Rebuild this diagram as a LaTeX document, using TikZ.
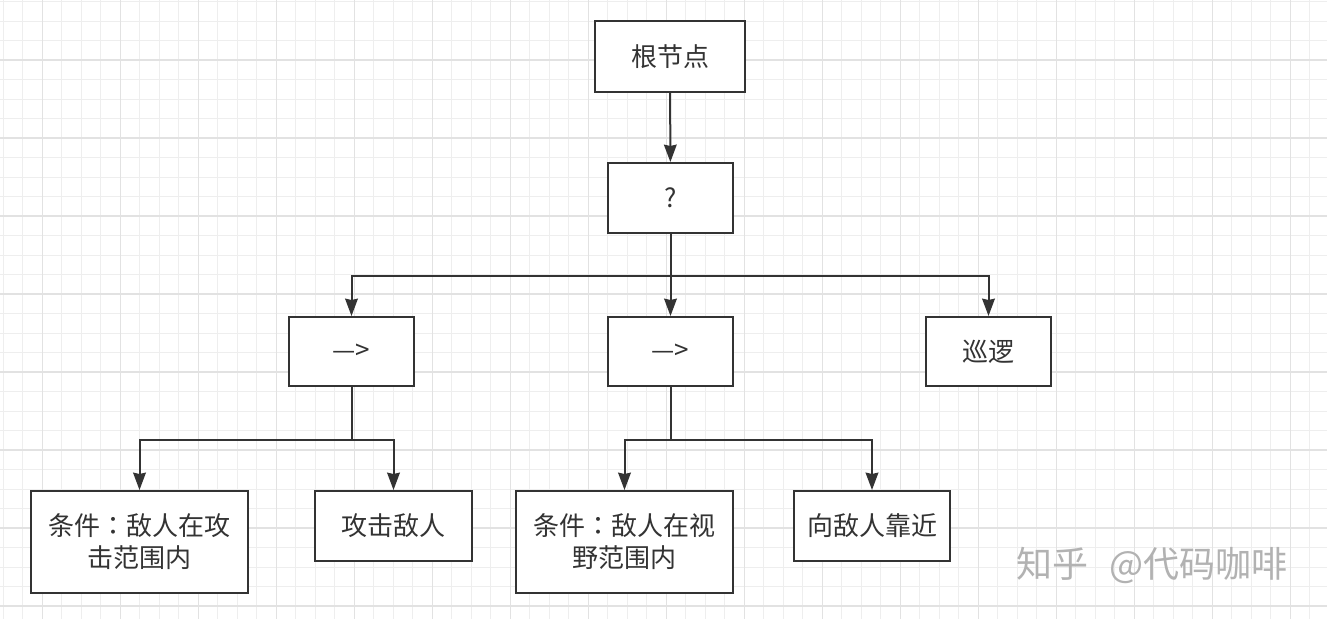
\documentclass[tikz,border=0pt]{standalone}
\usepackage{fontspec}
\setmainfont{Noto Sans CJK SC}
\newfontfamily\tcfont{Noto Sans CJK TC}
\usetikzlibrary{arrows.meta}
\definecolor{ink}{HTML}{333333}
\definecolor{gridminor}{HTML}{EEEEEE}
\definecolor{gridmajor}{HTML}{E2E2E2}
\newcommand{\fwcolon}{{\tcfont ：}}
\tikzset{
  box/.style={draw=ink, line width=1.5pt, fill=white, rectangle, inner sep=0pt, align=center,
    text=ink, font=\fontsize{19.5pt}{24pt}\selectfont},
  link/.style={draw=ink, line width=1.5pt},
  arr/.style={link, -{Stealth[length=13pt, width=9.5pt, inset=1pt]}},
  gminor/.style={draw=gridminor, line width=0.75pt},
  gmajor/.style={draw=gridmajor, line width=0.9pt},
}
\begin{document}
\begin{tikzpicture}[x=0.75pt,y=-0.75pt]
\useasboundingbox (0,0) rectangle (1327,619);
\fill[white] (0,0) rectangle (1327,619);
% grid
\foreach \i in {0,...,68} {\draw[gminor] ({3.2+19.5*\i},0) -- ({3.2+19.5*\i},619);}
\foreach \i in {0,...,31} {\draw[gminor] (0,{1.5+19.5*\i}) -- (1327,{1.5+19.5*\i});}
\foreach \i in {0,...,16} {\draw[gmajor] ({42.7+78*\i},0) -- ({42.7+78*\i},619);}
\foreach \i in {0,...,7} {\draw[gmajor] (0,{60+78*\i}) -- (1327,{60+78*\i});}

% nodes
\node[box, minimum width=112.5pt, minimum height=53.25pt] (root) at (670,56.5) {根节点};
\node[box, minimum width=93.75pt, minimum height=52.5pt] (sel) at (670.5,198) {?};
\node[box, minimum width=93.75pt, minimum height=51.75pt] (seqa) at (351.5,351.5) {—>};
\node[box, minimum width=93.75pt, minimum height=51.75pt] (seqb) at (670.5,351.5) {—>};
\node[box, minimum width=93.75pt, minimum height=51.75pt] (patrol) at (988.5,351.5) {巡逻};
\node[box, minimum width=162.75pt, minimum height=76.5pt] (conda) at (139.5,542) {条件\fwcolon 敌人在攻\\击范围内};
\node[box, minimum width=117.75pt, minimum height=52.5pt] (attack) at (393.5,526) {攻击敌人};
\node[box, minimum width=162.75pt, minimum height=76.5pt] (condb) at (624.5,542) {条件\fwcolon 敌人在视\\野范围内};
\node[box, minimum width=117pt, minimum height=52.5pt] (approach) at (872,526) {向敌人靠近};

% connectors
\draw[arr] (root) -- (sel);
\coordinate (ja) at (670.5,276);
\draw[link] (sel) -- (ja);
\draw[arr] (ja) -| (seqa);
\draw[arr] (ja) -- (seqb);
\draw[arr] (ja) -| (patrol);
\coordinate (jb) at (351.5,440);
\draw[link] (seqa) -- (jb);
\draw[arr] (jb) -| (conda);
\draw[arr] (jb) -| (attack);
\coordinate (jc) at (670.5,440);
\draw[link] (seqb) -- (jc);
\draw[arr] (jc) -| (condb);
\draw[arr] (jc) -| (approach);

% watermark
\node[text=black!30, font=\fontsize{27pt}{30pt}\selectfont, inner sep=0pt] (wm) at (1152,565) {知乎\hspace{0.6em}@代码咖啡};
\end{tikzpicture}
\end{document}
